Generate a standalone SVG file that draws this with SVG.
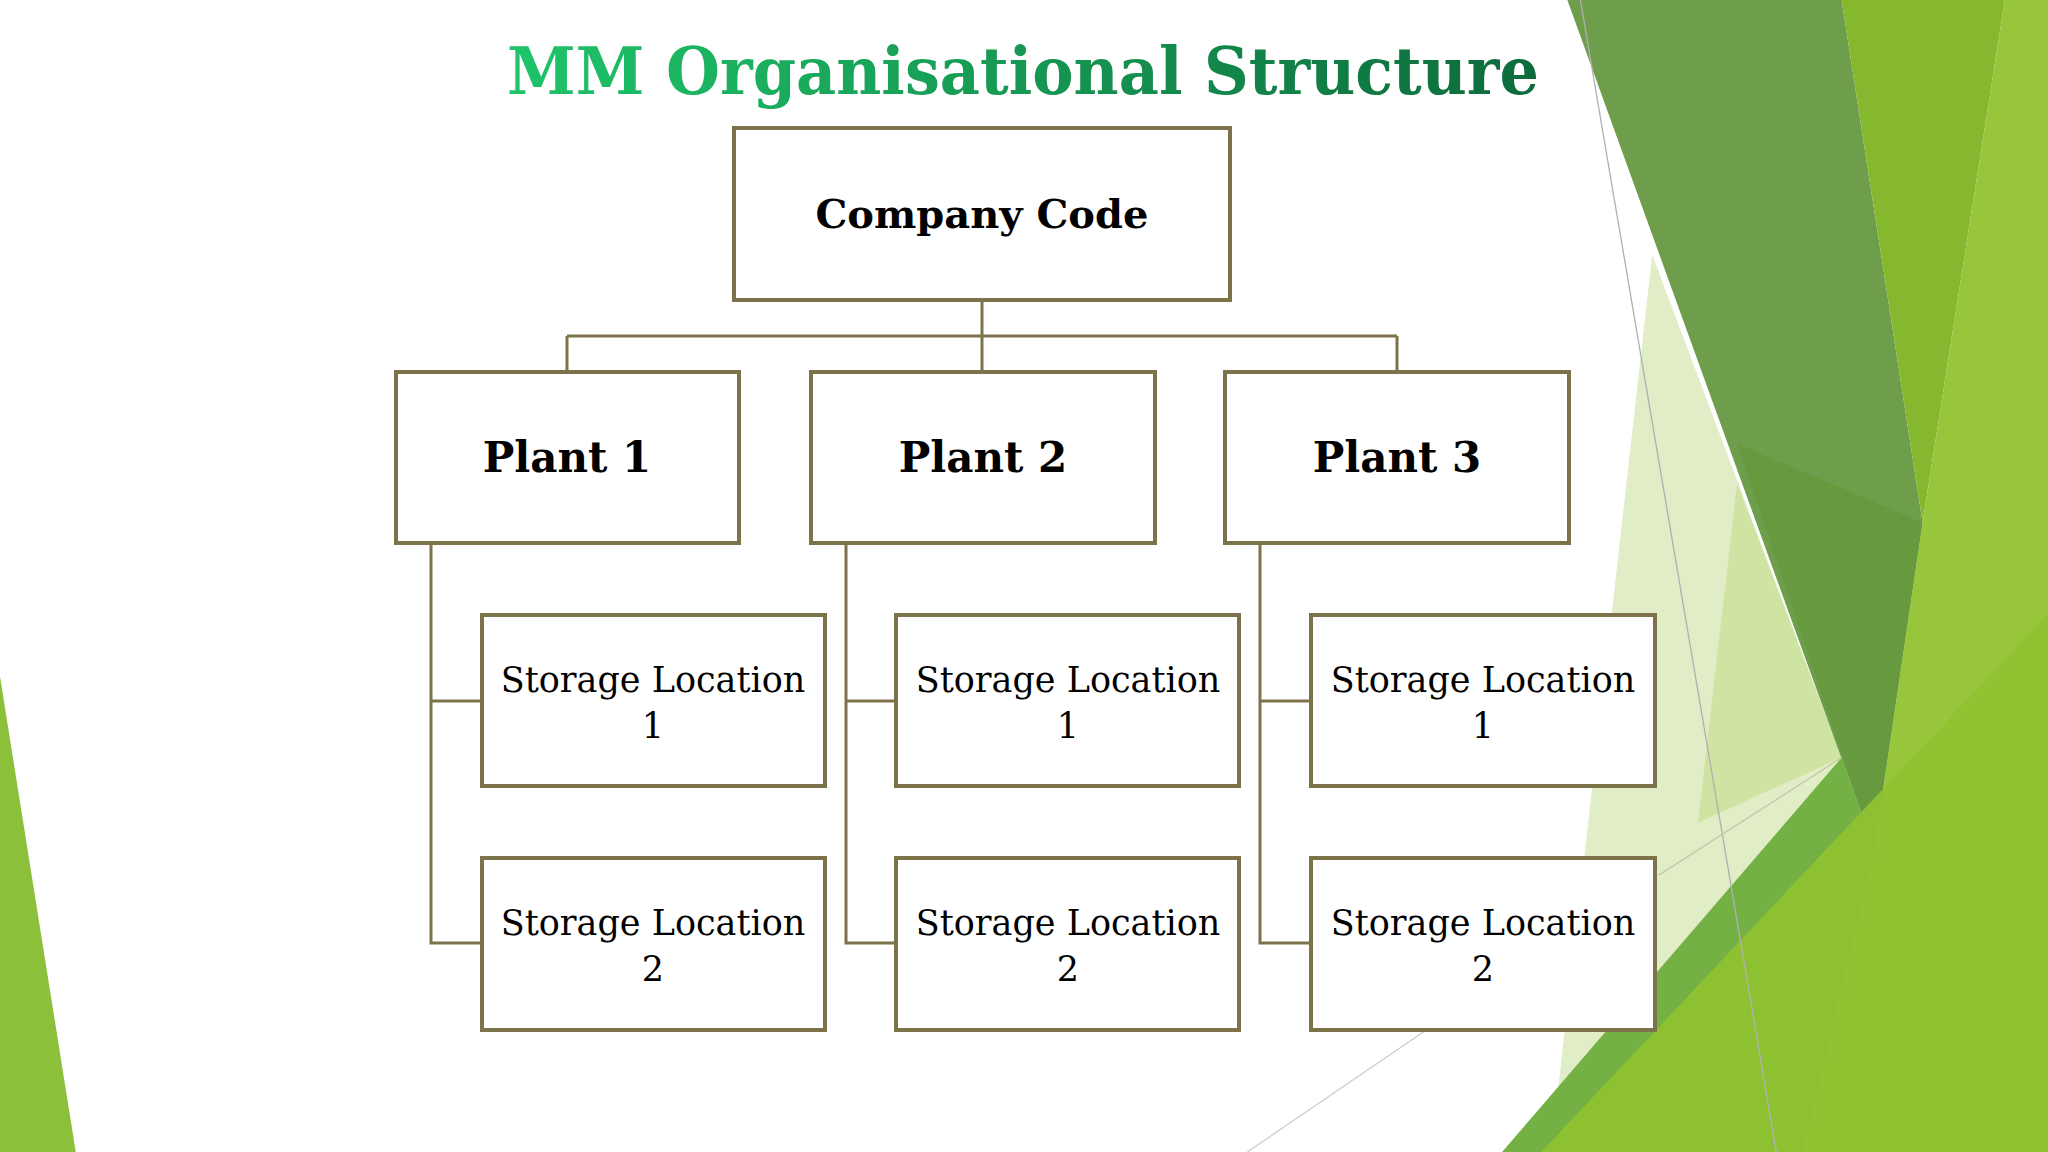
<svg xmlns="http://www.w3.org/2000/svg" width="2048" height="1152" viewBox="0 0 2048 1152">
<defs>
<linearGradient id="tg" x1="0" x2="1" y1="0" y2="0"><stop offset="0" stop-color="#1fc46a"/><stop offset="1" stop-color="#0d6b3c"/></linearGradient>
<style>
.box{fill:#fff;stroke:#7d734a;stroke-width:4}
.con{fill:none;stroke:#7d734a;stroke-width:3}
.b{font-family:"DejaVu Serif",serif;font-weight:bold;fill:#000;text-anchor:middle}
.s{font-family:"DejaVu Serif",serif;font-size:35px;fill:#000;text-anchor:middle}
</style>
</defs>
<rect width="2048" height="1152" fill="#fff"/>
<g id="background" transform="scale(1.30612)">
<polygon points="1265,195 1410,580 1190,860" fill="#e0edc6"/>
<polygon points="1330,370 1410,580 1300,630" fill="#cfe4a2"/>
<polygon points="1200,0 1410,0 1472,400 1435,650" fill="#6e9d4b"/>
<polygon points="1330,340 1472,400 1435,650" fill="#67993f"/>
<polygon points="1410,0 1535,0 1472,400" fill="#85b72f"/>
<polygon points="1535,0 1568,0 1568,882 1360,882 1435,650 1472,400" fill="#97c63d"/>
<polygon points="1150,882 1410,580 1435,650 1380,882" fill="#74b144"/>
<polygon points="1568,470 1568,882 1180,882" fill="#8fc232" opacity="0.95"/>
<polygon points="0,518 58,882 0,882" fill="#8dc03a"/>
<line x1="1210" y1="0" x2="1360" y2="882" stroke="#b0b0b0" stroke-width="1"/>
<line x1="955" y1="882" x2="1090" y2="790" stroke="#cccccc" stroke-width="1"/>
<line x1="1270" y1="670" x2="1410" y2="580" stroke="#c0c8a8" stroke-width="1"/>
</g>
<text x="1023" y="94" font-family="DejaVu Serif,serif" font-weight="bold" font-size="66" fill="url(#tg)" text-anchor="middle" textLength="1032" lengthAdjust="spacingAndGlyphs">MM Organisational Structure</text>
<g id="connectors">
<path class="con" d="M982,300V336M567,336H1397M567,336V372M982,336V372M1397,336V372"/>
<path class="con" d="M431,543V943H482M431,701H482"/>
<path class="con" d="M846,543V943H896M846,701H896"/>
<path class="con" d="M1260,543V943H1311M1260,701H1311"/>
</g>
<g id="company"><rect class="box" x="734" y="128" width="496" height="172"/><text class="b" x="982" y="228" font-size="40">Company Code</text></g>
<g id="plant1"><rect class="box" x="396" y="372" width="343" height="171"/><text class="b" x="567" y="472" font-size="42">Plant 1</text></g>
<g id="plant2"><rect class="box" x="811" y="372" width="344" height="171"/><text class="b" x="983" y="472" font-size="42">Plant 2</text></g>
<g id="plant3"><rect class="box" x="1225" y="372" width="344" height="171"/><text class="b" x="1397" y="472" font-size="42">Plant 3</text></g>
<g id="sl11"><rect class="box" x="482" y="615" width="343" height="171"/><text class="s" x="653" y="692">Storage Location</text><text class="s" x="653" y="738">1</text></g>
<g id="sl12"><rect class="box" x="482" y="858" width="343" height="172"/><text class="s" x="653" y="935">Storage Location</text><text class="s" x="653" y="981">2</text></g>
<g id="sl21"><rect class="box" x="896" y="615" width="343" height="171"/><text class="s" x="1068" y="692">Storage Location</text><text class="s" x="1068" y="738">1</text></g>
<g id="sl22"><rect class="box" x="896" y="858" width="343" height="172"/><text class="s" x="1068" y="935">Storage Location</text><text class="s" x="1068" y="981">2</text></g>
<g id="sl31"><rect class="box" x="1311" y="615" width="344" height="171"/><text class="s" x="1483" y="692">Storage Location</text><text class="s" x="1483" y="738">1</text></g>
<g id="sl32"><rect class="box" x="1311" y="858" width="344" height="172"/><text class="s" x="1483" y="935">Storage Location</text><text class="s" x="1483" y="981">2</text></g>
</svg>
